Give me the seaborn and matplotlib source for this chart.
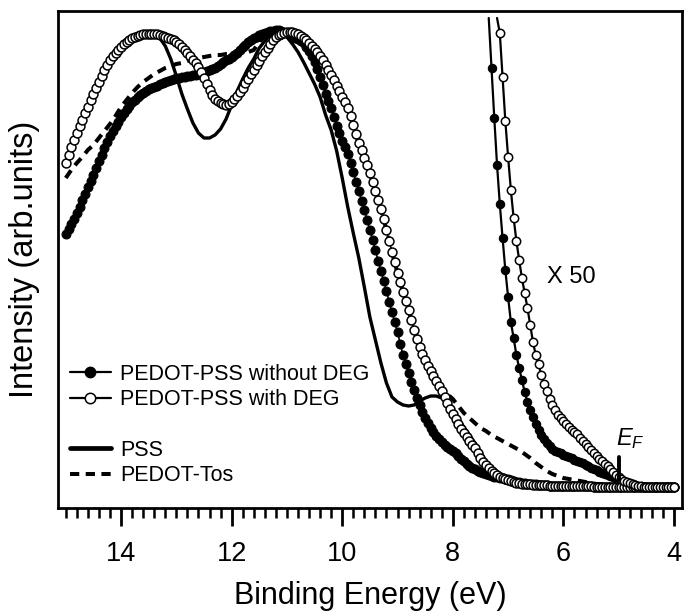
import numpy as np
import seaborn as sns
import matplotlib.pyplot as plt
from matplotlib.lines import Line2D
from matplotlib.ticker import MultipleLocator

# binding energy grids (eV), spectra are sampled uniformly
energy_fine = np.round(np.arange(15.0, 3.99, -0.05), 2)   # 221 pts, marker curves
energy_coarse = np.round(np.arange(15.0, 3.95, -0.1), 1)  # 111 pts, line curves

# PEDOT-PSS without DEG (filled circles), 15.00 -> 4.00 step 0.05
without_deg = [
    253, 258, 263, 268, 274, 280, 287, 293, 300, 306, 312, 319, 326, 332, 339, 345, 351, 356, 361, 365,
    370, 374, 378, 381, 385, 387, 390, 392, 394, 396, 398, 399, 400, 401, 403, 404, 405, 406, 407, 408,
    409, 409, 410, 410, 411, 411, 412, 412, 413, 414, 415, 416, 417, 418, 419, 421, 423, 425, 427, 428,
    430, 432, 434, 437, 440, 442, 445, 447, 449, 450, 452, 453, 454, 455, 456, 456, 457, 457, 456, 455,
    454, 452, 451, 449, 448, 446, 444, 440, 436, 431, 425, 418, 410, 402, 393, 386, 379, 370, 361, 354,
    346, 340, 333, 324, 315, 305, 296, 286, 277, 267, 257, 247, 237, 226, 216, 206, 196, 185, 175, 165,
    155, 143, 132, 123, 114, 105, 97, 89, 82, 75, 69, 64, 59, 55, 51, 48, 45, 42, 40, 38,
    36, 34, 31, 28, 26, 23, 21, 19, 18, 16, 15, 14, 13, 12, 11, 10, 10, 9, 9, 8,
    8, 7, 6, 5, 5, 4, 4, 3, 3, 3, 3, 2, 2, 2, 2, 1, 1, 1, 1, 1,
    1, 1, 1, 1, 1, 1, 1, 1, 1, 1, 1, 0, 0, 0, 0, 0, 0, 0, 0, 0,
    0, 0, 0, 0, 0, 0, 0, 0, 0, 0, 0, 0, 0, 0, 0, 0, 0, 0, 0, 0,
    0,
]

# PEDOT-PSS with DEG (open circles), 15.00 -> 4.00 step 0.05
with_deg = [
    324, 332, 340, 347, 354, 361, 367, 374, 380, 387, 393, 399, 405, 411, 417, 422, 427, 431, 434, 437,
    440, 443, 445, 447, 449, 450, 451, 452, 453, 453, 453, 453, 453, 453, 452, 451, 450, 449, 448, 447,
    445, 443, 440, 437, 434, 431, 427, 424, 420, 415, 409, 403, 397, 392, 388, 386, 384, 383, 382, 383,
    385, 388, 391, 395, 399, 404, 408, 413, 417, 422, 426, 431, 435, 439, 443, 447, 450, 452, 453, 454,
    455, 455, 455, 454, 453, 451, 449, 447, 444, 441, 438, 435, 431, 427, 422, 417, 412, 407, 401, 396,
    390, 385, 379, 371, 362, 353, 344, 337, 329, 322, 314, 305, 296, 287, 278, 268, 257, 246, 235, 225,
    214, 205, 195, 186, 177, 167, 157, 148, 140, 133, 127, 121, 116, 111, 106, 101, 96, 90, 84, 78,
    73, 68, 63, 58, 54, 50, 46, 42, 39, 34, 29, 25, 22, 19, 16, 14, 12, 10, 9, 8,
    7, 6, 5, 4, 4, 3, 3, 3, 3, 2, 2, 2, 2, 2, 2, 1, 1, 1, 1, 1,
    1, 1, 1, 1, 1, 1, 1, 1, 1, 1, 1, 0, 0, 0, 0, 0, 0, 0, 0, 0,
    0, 0, 0, 0, 0, 0, 0, 0, 0, 0, 0, 0, 0, 0, 0, 0, 0, 0, 0, 0,
    0,
]

# PSS, 15.0 -> 4.0 step 0.1
pss = [
    324, 340, 354, 367, 380, 393, 405, 417, 427, 434,
    440, 445, 449, 451, 453, 453, 452, 449, 441, 428,
    411, 393, 378, 364, 354, 349, 349, 352, 358, 368,
    382, 396, 408, 419, 428, 439, 446, 452, 455, 454,
    450, 443, 435, 425, 414, 403, 390, 372, 357, 336,
    309, 280, 254, 229, 200, 170, 147, 124, 104, 90,
    85, 82, 81, 82, 86, 89, 91, 91, 89, 85,
    78, 68, 60, 52, 44, 35, 26, 19, 13, 9,
    6, 4, 3, 2, 2, 1, 1, 0, 0, 0,
    0, 0, 0, 0, 0, 0, 0, 0, 0, 0,
    0, 0, 0, 0, 0, 0, 0, 0, 0, 0,
    0,
]

# PEDOT-Tos, 15.0 -> 4.0 step 0.1
pedot_tos = [
    309, 317, 324, 330, 337, 342, 349, 356, 363, 371,
    380, 387, 394, 400, 405, 409, 413, 416, 419, 421,
    423, 424, 426, 427, 429, 430, 431, 432, 432, 433,
    433, 434, 434, 435, 437, 445, 451, 455, 456, 456,
    455, 455, 453, 449, 444, 438, 431, 422, 412, 401,
    390, 379, 362, 344, 329, 314, 296, 278, 257, 235,
    214, 195, 177, 157, 140, 127, 116, 108, 100, 93,
    88, 81, 74, 69, 64, 59, 56, 52, 49, 46,
    43, 40, 37, 33, 29, 24, 20, 16, 13, 11,
    9, 8, 7, 6, 5, 4, 3, 3, 2, 2,
    1, 1, 1, 0, 0, 0, 0, 0, 0, 0,
    0,
]

# x50 magnified onset regions
energy_x50_without = np.round(np.arange(7.35, 3.99, -0.05), 2)  # 68 pts
without_deg_x50 = [
    469, 419, 369, 322, 283, 249, 217, 190, 165, 149, 132, 119, 107, 95, 85, 77, 70, 63, 57, 52,
    48, 44, 41, 38, 36, 35, 34, 32, 31, 30, 29, 27, 26, 25, 24, 22, 21, 19, 18, 17,
    15, 14, 13, 12, 11, 10, 9, 8, 6, 5, 4, 3, 2, 2, 1, 1, 0, 0, 0, 0,
    0, 0, 0, 0, 0, 0, 0, 0,
]
energy_x50_with = np.round(np.arange(7.20, 3.99, -0.05), 2)  # 65 pts
with_deg_x50 = [
    469, 454, 410, 366, 330, 297, 269, 246, 227, 209, 194, 179, 162, 145, 132, 123, 112, 103, 96, 88,
    82, 77, 72, 69, 66, 63, 60, 57, 55, 53, 49, 46, 43, 40, 37, 34, 31, 28, 26, 23,
    21, 18, 15, 12, 10, 8, 6, 5, 4, 3, 2, 1, 1, 0, 0, 0, 0, 0, 0, 0,
    0, 0, 0, 0, 0,
]

fermi_level = 5.0
legend_labels = ['PEDOT-PSS without DEG', 'PEDOT-PSS with DEG', ' ', 'PSS', 'PEDOT-Tos']

sns.set_style('ticks')
plt.rcParams['font.family'] = ['Liberation Sans', 'DejaVu Sans']
plt.rcParams['mathtext.fontset'] = 'custom'
plt.rcParams['mathtext.it'] = 'Liberation Sans:italic'
plt.rcParams['mathtext.rm'] = 'Liberation Sans'
for key in ['text.color', 'axes.labelcolor', 'xtick.color', 'ytick.color', 'axes.edgecolor']:
    plt.rcParams[key] = 'black'

fig = plt.figure(figsize=(6.91, 6.14), dpi=100)
ax = fig.add_axes([58 / 691, 1 - 508 / 614, 624 / 691, 497 / 614])

tos_dash = (2.3, 1.6)

sns.lineplot(x=energy_coarse, y=pss, ax=ax, color='black', lw=2.4,
             sort=False, estimator=None, zorder=2)
sns.lineplot(x=energy_coarse, y=pedot_tos, ax=ax, color='black', lw=2.9,
             sort=False, estimator=None, zorder=2)
ax.lines[-1].set_dashes(tos_dash)

circle = dict(marker='o', markeredgecolor='black', color='black',
              sort=False, estimator=None)
sns.lineplot(x=energy_fine, y=without_deg, ax=ax, lw=1.2, markersize=6.4,
             markerfacecolor='black', markeredgewidth=0.8, zorder=3, **circle)
sns.lineplot(x=energy_fine, y=with_deg, ax=ax, lw=1.2, markersize=6.4,
             markerfacecolor='white', markeredgewidth=1.1, zorder=4, **circle)
sns.lineplot(x=energy_x50_without, y=without_deg_x50, ax=ax, lw=1.6, markersize=6.0,
             markerfacecolor='black', markeredgewidth=0.8,
             markevery=slice(1, None), zorder=3, **circle)
sns.lineplot(x=energy_x50_with, y=with_deg_x50, ax=ax, lw=1.6, markersize=6.0,
             markerfacecolor='white', markeredgewidth=1.1,
             markevery=slice(1, None), zorder=4, **circle)

# Fermi level marker and annotations
ax.plot([fermi_level, fermi_level], [7, 30], color='black', lw=2.8, zorder=5)
ax.text(fermi_level + 0.04, 42, r'$E_F$', fontsize=17, ha='left', va='baseline')
ax.text(6.30, 210, 'X 50', fontsize=17, ha='left', va='center')

ax.set_xlim(15.14, 3.855)
ax.set_ylim(-21, 476)
ax.xaxis.set_major_locator(MultipleLocator(2))
ax.xaxis.set_minor_locator(MultipleLocator(0.2))
ax.tick_params(axis='x', which='major', direction='out', length=13, width=2,
               labelsize=19.5, pad=11, top=False)
ax.tick_params(axis='x', which='minor', direction='out', length=7, width=1.8, top=False)
ax.tick_params(axis='y', left=False, labelleft=False)
for s in ax.spines.values():
    s.set_linewidth(2)
ax.set_xlabel('Binding Energy (eV)', fontsize=22, labelpad=10)
ax.set_ylabel('Intensity (arb.units)', fontsize=23.5, labelpad=13)

handles = [
    Line2D([], [], color='black', lw=1.6, marker='o', ms=7.5, mfc='black', mec='black'),
    Line2D([], [], color='black', lw=1.6, marker='o', ms=7.5, mfc='white', mec='black', mew=1.1),
    Line2D([], [], linestyle='none'),
    Line2D([], [], color='black', lw=3.4),
    Line2D([], [], color='black', lw=2.9, dashes=tos_dash),
]
ax.legend(handles, legend_labels, loc='upper left', bbox_to_anchor=(0.019, 0.29),
          frameon=False, fontsize=15.5, numpoints=1, handlelength=1.9,
          handletextpad=0.45, labelspacing=0.2, borderpad=0, borderaxespad=0)

fig.savefig('out.png', dpi=100)
